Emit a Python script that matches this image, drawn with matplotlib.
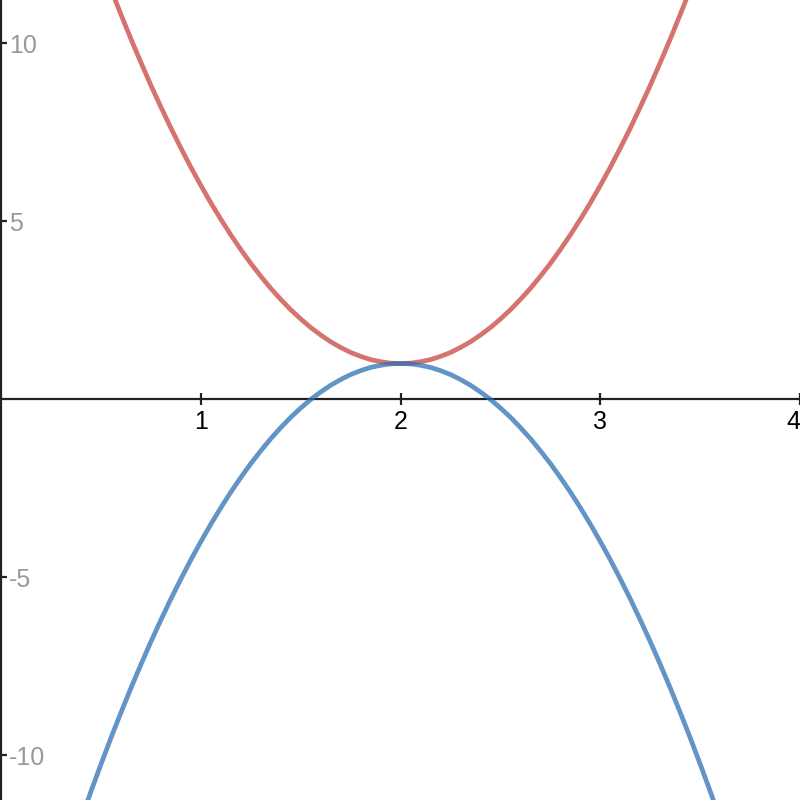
import numpy as np
import matplotlib
matplotlib.use("Agg")
import matplotlib.pyplot as plt

plt.rcParams['font.family'] = ['Liberation Sans', 'DejaVu Sans']

# values
x_vals = [0.4, 0.45, 0.5, 0.55, 0.6, 0.65, 0.7, 0.75, 0.8, 0.85, 0.9, 0.95,
          1.0, 1.05, 1.1, 1.15, 1.2, 1.25, 1.3, 1.35, 1.4, 1.45, 1.5, 1.55,
          1.6, 1.65, 1.7, 1.75, 1.8, 1.85, 1.9, 1.95, 2.0,
          2.05, 2.1, 2.15, 2.2, 2.25, 2.3, 2.35, 2.4, 2.45, 2.5, 2.55, 2.6,
          2.65, 2.7, 2.75, 2.8, 2.85, 2.9, 2.95, 3.0, 3.05, 3.1, 3.15, 3.2,
          3.25, 3.3, 3.35, 3.4, 3.45, 3.5, 3.55, 3.6]
red_vals = [13.8, 13.01, 12.25, 11.51, 10.8, 10.11, 9.45, 8.81, 8.2, 7.61, 7.05, 6.51,
            6.0, 5.51, 5.05, 4.61, 4.2, 3.81, 3.45, 3.11, 2.8, 2.51, 2.25, 2.01,
            1.8, 1.61, 1.45, 1.31, 1.2, 1.11, 1.05, 1.01, 1.0,
            1.01, 1.05, 1.11, 1.2, 1.31, 1.45, 1.61, 1.8, 2.01, 2.25, 2.51, 2.8,
            3.11, 3.45, 3.81, 4.2, 4.61, 5.05, 5.51, 6.0, 6.51, 7.05, 7.61, 8.2,
            8.81, 9.45, 10.11, 10.8, 11.51, 12.25, 13.01, 13.8]
blue_vals = [-11.8, -11.01, -10.25, -9.51, -8.8, -8.11, -7.45, -6.81, -6.2, -5.61, -5.05, -4.51,
             -4.0, -3.51, -3.05, -2.61, -2.2, -1.81, -1.45, -1.11, -0.8, -0.51, -0.25, -0.01,
             0.2, 0.39, 0.55, 0.69, 0.8, 0.89, 0.95, 0.99, 1.0,
             0.99, 0.95, 0.89, 0.8, 0.69, 0.55, 0.39, 0.2, -0.01, -0.25, -0.51, -0.8,
             -1.11, -1.45, -1.81, -2.2, -2.61, -3.05, -3.51, -4.0, -4.51, -5.05, -5.61, -6.2,
             -6.81, -7.45, -8.11, -8.8, -9.51, -10.25, -11.01, -11.8]
x_ticks = [1, 2, 3, 4]
y_ticks = [-10, -5, 5, 10]

fig = plt.figure(figsize=(8, 8), dpi=100)
ax = fig.add_axes([0, 0, 1, 1])

ax.plot(x_vals, red_vals, color='#c74440', alpha=0.75, lw=3.4,
        solid_joinstyle='round', solid_capstyle='butt')
ax.plot(x_vals, blue_vals, color='#2d70b3', alpha=0.75, lw=3.4,
        solid_joinstyle='round', solid_capstyle='butt')

ax.set_xlim(-0.006, 4.0)
ax.set_ylim(-11.26, 11.21)

# axes through the origin
ax.spines['top'].set_visible(False)
ax.spines['left'].set_visible(False)
ax.spines['bottom'].set_position(('data', 0))
ax.spines['right'].set_position(('data', 0))
for s in ['bottom', 'right']:
    ax.spines[s].set_color('#222222')
    ax.spines[s].set_linewidth(1.6)
    ax.spines[s].set_zorder(1)

ax.xaxis.set_ticks_position('bottom')
ax.yaxis.set_ticks_position('right')
ax.set_xticks(x_ticks)
ax.set_xticklabels([str(v) for v in x_ticks])
ax.set_yticks(y_ticks)
ax.set_yticklabels([str(v) for v in y_ticks])
ax.tick_params(axis='x', direction='inout', length=9, width=1.6, color='#222222',
               labelsize=18, labelcolor='black', pad=3)
ax.tick_params(axis='y', direction='inout', length=9, width=1.6, color='#222222',
               labelsize=18, labelcolor='#999999', pad=1)
# last x label sits against the right edge
ax.get_xticklabels()[-1].set_horizontalalignment('right')

plt.savefig('out.png', dpi=100)
